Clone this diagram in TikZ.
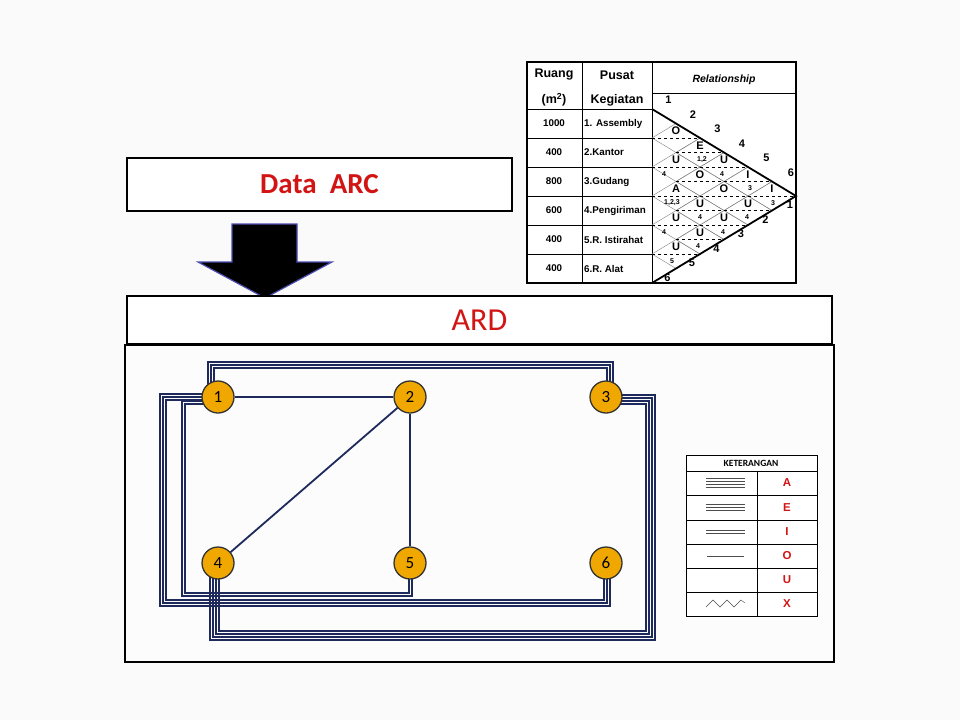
\documentclass[tikz,border=0pt]{standalone}
\usepackage{fontspec}
\setmainfont{Carlito}
\newfontfamily\arialfont{Liberation Sans}
\usepackage{tikz}
\usetikzlibrary{arrows,calc,positioning}
\definecolor{navy}{RGB}{31,42,92}
\definecolor{nodeorange}{RGB}{240,168,0}
\definecolor{arcred}{RGB}{210,20,20}

\begin{document}
\begin{tikzpicture}[x=1pt,y=-1pt,
			thin,main node/.style={circle,fill=nodeorange,draw=black!80,line width=1.3pt,
				font=\fontsize{17}{17}\selectfont,minimum size=32pt,inner sep=0pt},
			title box/.style={draw,line width=2pt,fill=white,font=\fontsize{29}{29}\selectfont,
				text=arcred,inner sep=0pt},
			link/.style={navy,line width=1.1pt},
			chart/.style={font=\arialfont\bfseries\fontsize{9.8}{10}\selectfont},
			small/.style={font=\arialfont\bfseries\fontsize{7}{7}\selectfont,inner sep=0pt}]

			\fill[gray!4] (0,0) rectangle (960,720);
			\useasboundingbox (0,0) rectangle (960,720);

			% upper boxes and arrow
			\node[title box,minimum width=385pt,minimum height=53pt,font=\bfseries\fontsize{29}{29}\selectfont] (arc) at (319.5,184.5) {Data\ \ ARC};
			\draw[fill=black,draw=blue!40!gray,line width=1.2pt] (232,224) -- (297,224) -- (297,262) -- (332,262)
				-- (265,298) -- (198,262) -- (232,262) -- cycle;
			\node[title box,minimum width=705pt,minimum height=48pt,font=\fontsize{32}{32}\selectfont] (ard) at (479.5,320) {ARD};
			\draw[line width=1.5pt,fill=gray!2] (125,345) rectangle (834,662);

			% multi-line links
			\foreach \k in {0,1,2}
				\draw[link] ($(218,397)+(-10+3*\k,0)$) -- ($(218,397)+(-10+3*\k,-35+3*\k)$)
					-| ($(606,397)+(7-3*\k,0)$);
			\foreach \k in {0,1,2}
				\draw[link] ($(218,397)+(0,-3+3*\k)$) -- ($(218,397)+(-58+3*\k,-3+3*\k)$)
					|- ($(606,563)+(4-3*\k,43-3*\k)$) -- ($(606,563)+(4-3*\k,0)$);
			\foreach \k in {0,1}
				\draw[link] ($(218,397)+(0,4+3*\k)$) -- ($(218,397)+(-36+3*\k,4+3*\k)$)
					|- ($(410,563)+(2-3*\k,33-3*\k)$) -- ($(410,563)+(2-3*\k,0)$);
			\foreach \k in {0,1,2,3}
				\draw[link] ($(606,397)+(0,-2+3*\k)$) -- ($(606,397)+(49-3*\k,-2+3*\k)$)
					|- ($(218,563)+(-8+3*\k,77-3*\k)$) -- ($(218,563)+(-8+3*\k,0)$);

			\node[main node] (n1) at (218,397) {1};
			\node[main node] (n2) at (410,397) {2};
			\node[main node] (n3) at (606,397) {3};
			\node[main node] (n4) at (218,563) {4};
			\node[main node] (n5) at (410,563) {5};
			\node[main node] (n6) at (606,563) {6};
			\path[link,line width=1.8pt]
			(n1) edge (n2)
			(n2) edge (n4)
			(n2) edge (n5);

			% relationship chart
			\draw[line width=1.2pt,fill=white] (527,62) rectangle (796,283);
			\draw[thin] (582,62) -- (582,283) (652,62) -- (652,283) (652,93) -- (796,93)
				(527,109) -- (652,109);
			\foreach \y in {138,167,196,225,254}
				\draw[thin] (527,\y) -- (652,\y);
			\node[chart,font=\arialfont\bfseries\fontsize{12.5}{12}\selectfont] at (554,75) {Ruang};
			\node[chart,font=\arialfont\bfseries\fontsize{12.5}{12}\selectfont] at (554,100) {(m\textsuperscript{2})};
			\node[chart,font=\arialfont\bfseries\fontsize{12.5}{12}\selectfont] at (617,75) {Pusat};
			\node[chart,font=\arialfont\bfseries\fontsize{12.5}{12}\selectfont] at (617,100) {Kegiatan};
			\node[chart,font=\arialfont\bfseries\itshape\fontsize{10.5}{10}\selectfont] at (724,80) {Relationship};
			\foreach \n/\a/\name in {1/1000/1. Assembly,2/400/2.Kantor,3/800/3.Gudang,
					4/600/4.Pengiriman,5/400/5.R. Istirahat,6/400/6.R. Alat} {
				\node[chart] at (554,94.5+29*\n) {\a};
				\node[chart,anchor=west,inner sep=0pt] at (584,94.5+29*\n) {\name};
			}
			\foreach \i/\j/\l/\r/\o in {1/2/O//0,2/3/U/4/-12,3/4/A/{1,2,3}/-4,4/5/U/4/-12,5/6/U/5/-4,
					1/3/E/{1,2}/2,2/4/O//0,3/5/U/4/0,4/6/U/4/-2,
					1/4/U/4/-2,2/5/O//0,3/6/U/4/-1,
					1/5/I/3/2,2/6/U/4/-1,1/6/I/3/1} {
				\pgfmathsetmacro\cx{652+24*(\j-\i)}
				\pgfmathsetmacro\cy{109+14.5*(\i+\j-1)}
				\draw[gray,thin] ({\cx-24},\cy) -- (\cx,{\cy-14.5}) -- ({\cx+24},\cy) -- (\cx,{\cy+14.5}) -- cycle;
				\draw[dashed,thick] ({\cx-24},\cy) -- ({\cx+24},\cy);
				\node[chart,font=\arialfont\bfseries\fontsize{11}{11}\selectfont,inner sep=0pt] at (\cx,{\cy-7}) {\l};
				\node[small] at ({\cx+\o},{\cy+7}) {\r};
			}
			\draw[line width=1.8pt] (652,109) -- (796,196) -- (652,283);
			\foreach \n in {1,...,6} {
				\node[chart,font=\arialfont\bfseries\fontsize{11}{11}\selectfont] at (644+24.5*\n,85.5+14.5*\n) {\n};
				\node[chart,font=\arialfont\bfseries\fontsize{11}{11}\selectfont] at (814.5-24.5*\n,190.5+14.5*\n) {\n};
			}

			% legend
			\draw[thin,fill=white] (686,455) rectangle (817,616);
			\draw[thin] (686,471) -- (817,471) (757,471) -- (757,616);
			\foreach \y in {495,520,544,568,592}
				\draw[thin] (686,\y) -- (817,\y);
			\node[font=\bfseries\fontsize{9.5}{9.5}\selectfont] at (751,463) {KETERANGAN};
			\foreach \l/\y in {A/483,E/507.5,I/532,O/556,U/580,X/604}
				\node[text=arcred,font=\arialfont\bfseries\fontsize{11.5}{11}\selectfont] at (787,\y) {\l};
			\foreach \d in {-4.5,-1.5,1.5,4.5}
				\draw[black!70] (706,483+\d) -- (745,483+\d);
			\foreach \d in {-3,0,3}
				\draw[black!70,line width=1pt] (706,507.5+\d) -- (745,507.5+\d);
			\foreach \d in {-1.5,1.5}
				\draw[black!70] (706,532+\d) -- (745,532+\d);
			\draw[black!70] (707,556) -- (744,556);
			\draw[black!70] (706,607) -- (713,600) -- (720,607) -- (727,600) -- (734,607) -- (741,600) -- (745,603);
		\end{tikzpicture}
\end{document}
